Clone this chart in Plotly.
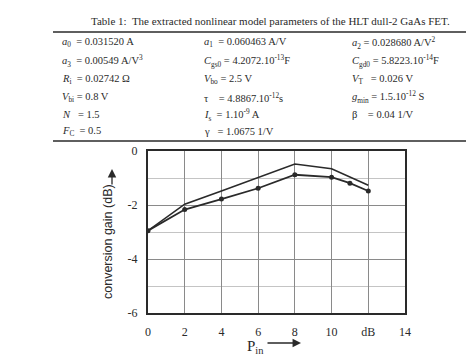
import plotly.graph_objects as go

# ---- data ----
pin_upper = [0, 2, 4, 6, 8, 10, 12]
gain_upper = [-2.95, -1.97, -1.48, -0.97, -0.48, -0.66, -1.27]
pin_lower = [0, 2, 4, 6, 8, 10, 11, 12]
gain_lower = [-2.95, -2.17, -1.78, -1.38, -0.88, -0.97, -1.19, -1.48]

x_tickvals = [0, 2, 4, 6, 8, 10, 12, 14]
x_ticktext = ["0", "2", "4", "6", "8", "10", "dB", "14"]
y_tickvals = [0, -2, -4, -6]
y_ticktext = ["0", "-2", "-4", "-6"]

table_title = "Table 1:  The extracted nonlinear model parameters of the HLT dull-2 GaAs FET."
table_col1 = ["<i>a</i><sub>0</sub>  = 0.031520 A", "<i>a</i><sub>3</sub>  = 0.00549 A/V<sup>3</sup>",
              "<i>R</i><sub>i</sub>  = 0.02742 Ω", "<i>V</i><sub>bi</sub> = 0.8 V",
              "<i>N</i>   = 1.5", "<i>F</i><sub>C</sub>  = 0.5"]
table_col2 = ["<i>a</i><sub>1</sub>  = 0.060463 A/V", "<i>C</i><sub>gs0</sub> = 4.2072.10<sup>-13</sup>F",
              "<i>V</i><sub>bo</sub> = 2.5 V", "τ    = 4.8867.10<sup>-12</sup>s",
              "<i>I</i><sub>s</sub>  = 1.10<sup>-9</sup> A", "γ   = 1.0675 1/V"]
table_col3 = ["<i>a</i><sub>2</sub> = 0.028680 A/V<sup>2</sup>", "<i>C</i><sub>gd0</sub> = 5.8223.10<sup>-14</sup>F",
              "<i>V</i><sub>T</sub>   = 0.026 V", "<i>g</i><sub>min</sub> = 1.5.10<sup>-12</sup> S",
              "β    = 0.04 1/V", ""]

# ---- layout geometry (pixels) ----
W, H = 474, 358
L, R, T, B = 140, 77, 143, 53
PW, PH = W - L - R, H - T - B


def px(x):
    return (x - L) / PW


def py(y):
    return (H - B - y) / PH


ink = "#2a2a2a"
fig = go.Figure()
fig.add_trace(go.Scatter(x=pin_upper, y=gain_upper, mode="lines",
                         line=dict(color=ink, width=1.6), showlegend=False))
fig.add_trace(go.Scatter(x=pin_lower, y=gain_lower, mode="lines+markers",
                         line=dict(color=ink, width=1.8),
                         marker=dict(color=ink, size=5), showlegend=False))

serif = "Liberation Serif"
sans = "Liberation Sans"

fig.update_layout(
    width=W, height=H,
    margin=dict(l=L, r=R, t=T, b=B),
    paper_bgcolor="white", plot_bgcolor="white",
    font=dict(family=serif, color=ink, size=12),
    xaxis=dict(range=[0, 14], tickvals=x_tickvals, ticktext=x_ticktext,
               showgrid=True, gridcolor="#8a8a8a", gridwidth=1,
               showline=True, linecolor=ink, linewidth=2, mirror=True,
               ticks="", ticklabelstandoff=7, zeroline=False,
               tickfont=dict(family=serif, size=12, color=ink)),
    yaxis=dict(range=[-6, 0], tickvals=y_tickvals, ticktext=y_ticktext,
               showgrid=True, gridcolor="#8a8a8a", gridwidth=1,
               minor=dict(dtick=1, tick0=0, showgrid=True, gridcolor="#c4c4c4", gridwidth=1),
               showline=True, linecolor=ink, linewidth=2, mirror=True,
               ticks="", ticklabelstandoff=6, zeroline=False,
               tickfont=dict(family=serif, size=12, color=ink)),
)

ann = []
# table title
ann.append(dict(x=px(262), y=py(13), xref="paper", yref="paper", text=table_title,
                showarrow=False, font=dict(family=serif, size=11, color=ink),
                xanchor="center", yanchor="middle"))
row_y = [35, 53, 71, 89, 107, 124]
for col_x, col in zip([52, 194, 342], [table_col1, table_col2, table_col3]):
    for yy, t in zip(row_y, col):
        if not t:
            continue
        ann.append(dict(x=px(col_x), y=py(yy), xref="paper", yref="paper", text=t,
                        showarrow=False, font=dict(family=serif, size=10.5, color=ink),
                        xanchor="left", yanchor="middle"))
# y axis title + arrow
ann.append(dict(x=px(100), y=py(234), xref="paper", yref="paper",
                text="conversion gain (dB)", textangle=-90, showarrow=False,
                font=dict(family=sans, size=12.5, color=ink),
                xanchor="center", yanchor="middle"))
ann.append(dict(x=px(104), y=py(161), xref="paper", yref="paper", text="",
                showarrow=True, ax=0, ay=17, arrowhead=2, arrowsize=1.3,
                arrowwidth=1.3, arrowcolor=ink))
# x axis title + arrow
ann.append(dict(x=px(247), y=py(339), xref="paper", yref="paper",
                text="P<sub>in</sub>", showarrow=False,
                font=dict(family=serif, size=15, color=ink),
                xanchor="center", yanchor="middle"))
ann.append(dict(x=px(293), y=py(335), xref="paper", yref="paper", text="",
                showarrow=True, ax=-35, ay=0, arrowhead=2, arrowsize=1.3,
                arrowwidth=1.3, arrowcolor=ink))
fig.update_layout(annotations=ann)

# table rules
for yy in [24, 133]:
    fig.add_shape(type="line", xref="paper", yref="paper",
                  x0=px(45), x1=px(460), y0=py(yy), y1=py(yy),
                  line=dict(color=ink, width=1.4))

fig.write_html("out.html")
